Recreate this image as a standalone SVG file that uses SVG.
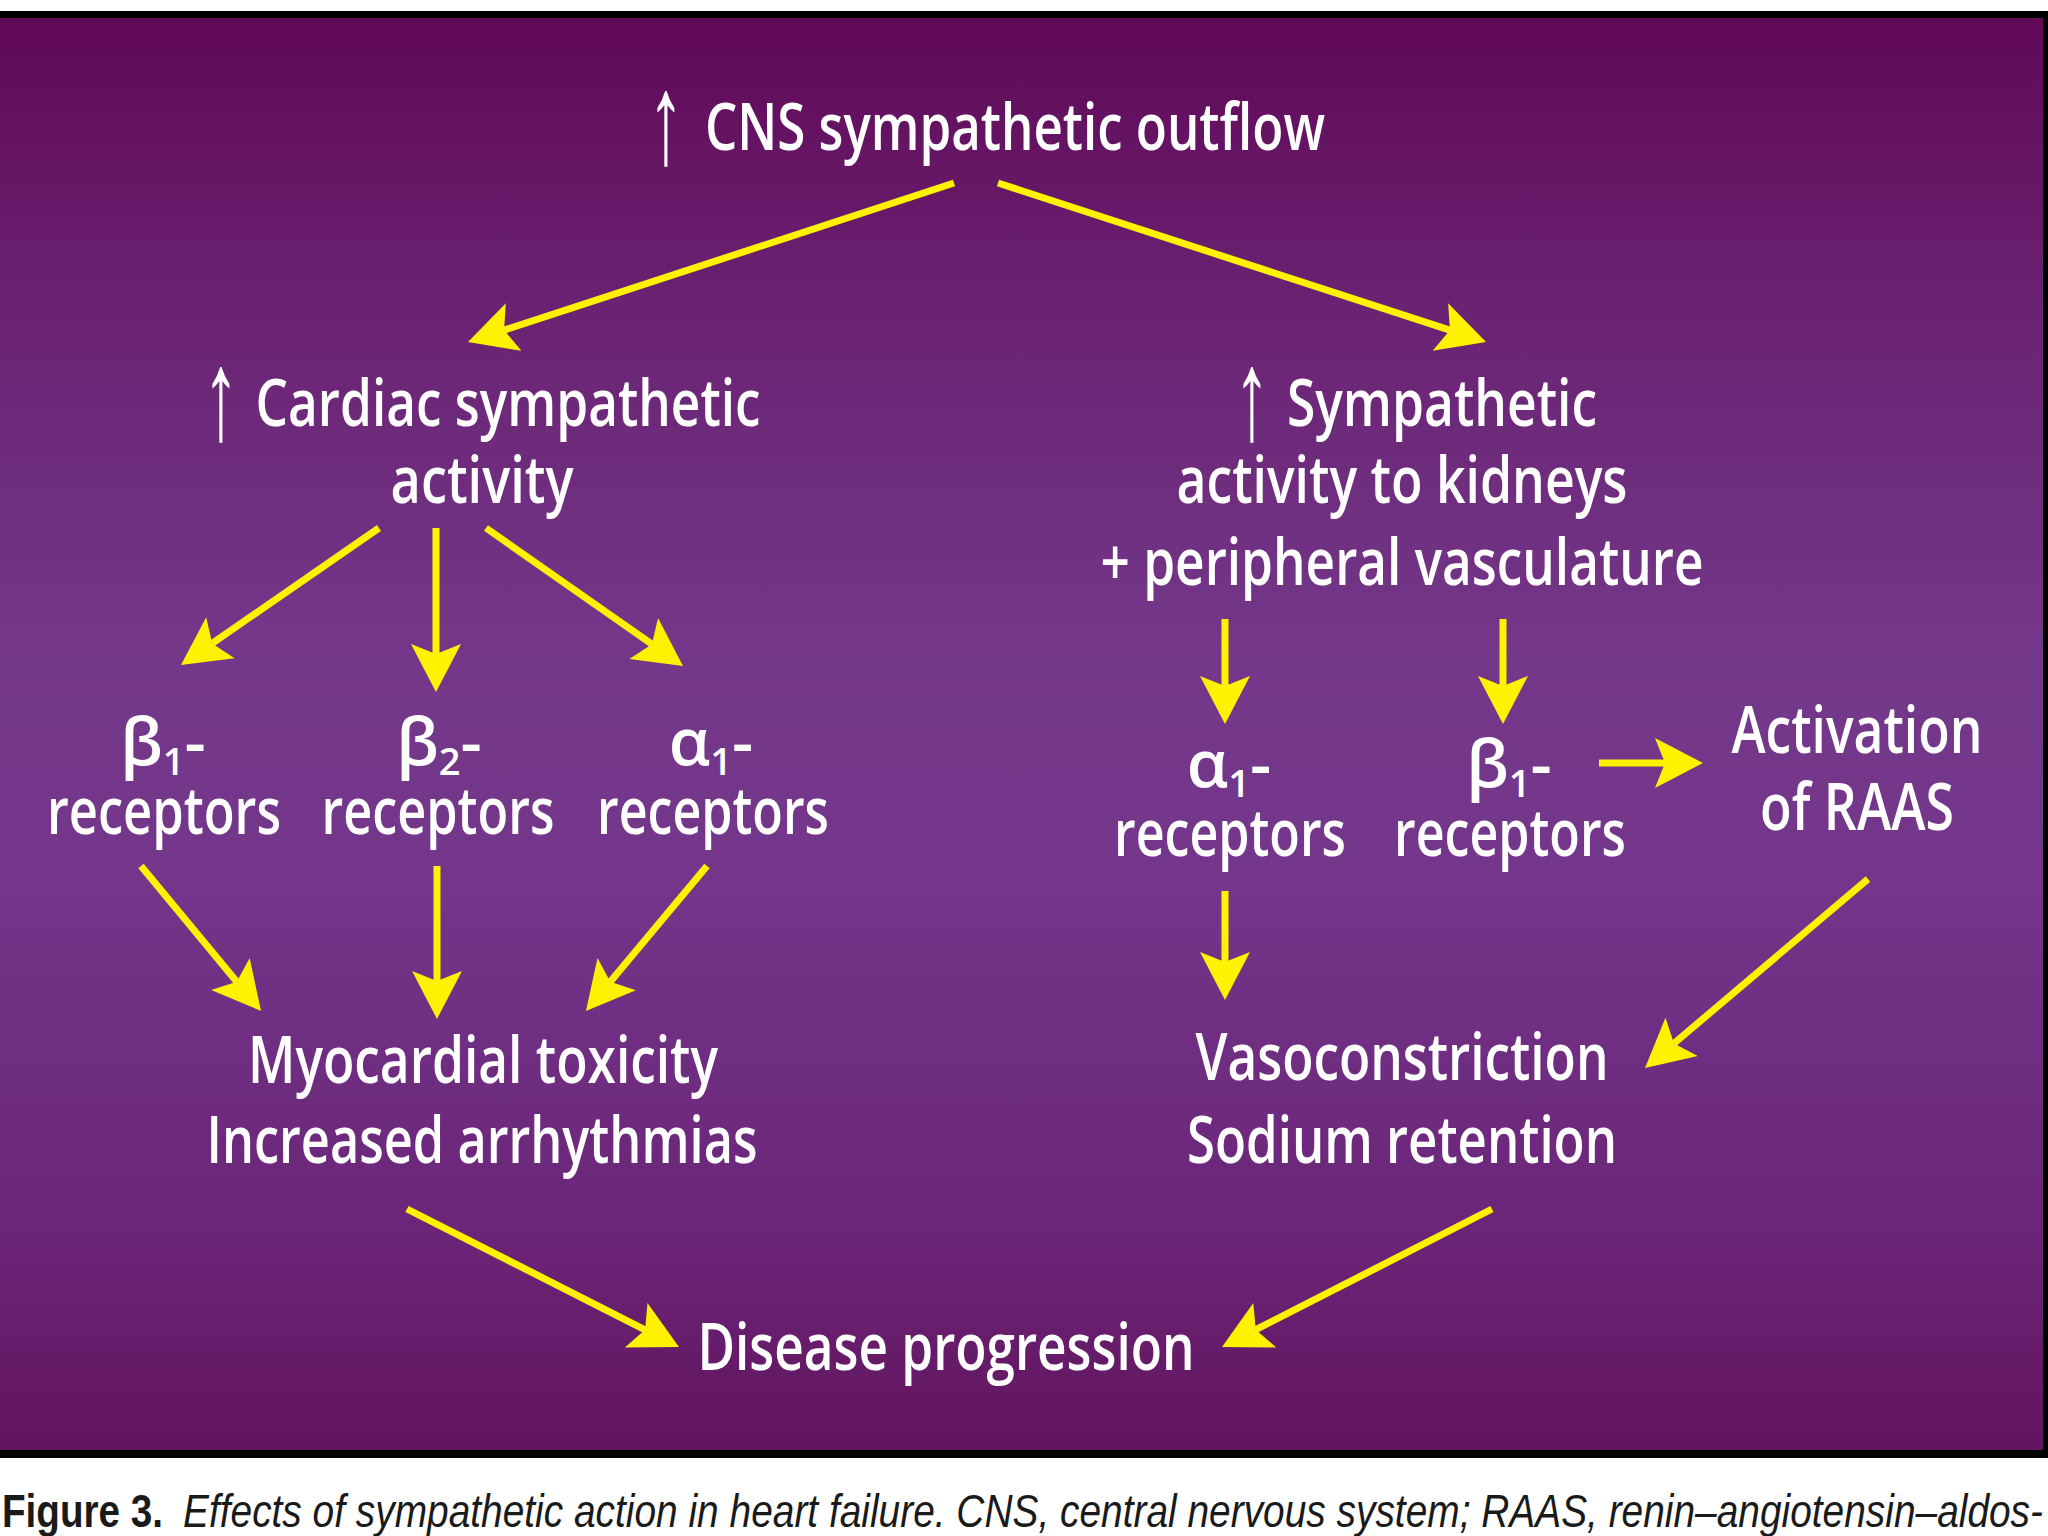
<svg xmlns="http://www.w3.org/2000/svg" width="2048" height="1536" viewBox="0 0 2048 1536">
<defs>
<linearGradient id="bg" x1="0" y1="0" x2="0" y2="1">
<stop offset="0" stop-color="#600957"/>
<stop offset="0.2" stop-color="#6a2272"/>
<stop offset="0.45" stop-color="#74388a"/>
<stop offset="0.6" stop-color="#73368a"/>
<stop offset="0.85" stop-color="#6b2578"/>
<stop offset="1" stop-color="#62145e"/>
</linearGradient>
<marker id="ah" markerUnits="userSpaceOnUse" viewBox="0 -26 48 52" markerWidth="48" markerHeight="52" refX="10" refY="0" orient="auto">
<path d="M0,-25 L48,0 L0,25 L10,0 Z" fill="#fff200"/>
</marker>
<style>
.t{fill:#ffffff;font-family:"Open Sans","Liberation Sans",sans-serif;font-weight:600;font-size:66px;text-anchor:middle}
.up{fill:#ffffff;font-family:"Liberation Sans",sans-serif;font-size:80px;text-anchor:middle}
.sub{font-size:38px}
.cap{fill:#1a1a1a;font-family:"Liberation Sans",sans-serif;font-size:46px}
.c line{stroke:#fff200;stroke-width:7;marker-end:url(#ah)}
</style>
</defs>
<rect x="0" y="0" width="2048" height="1536" fill="#ffffff"/>
<rect x="0" y="11" width="2048" height="1447" fill="#000000"/>
<rect x="0" y="18" width="2043" height="1432" fill="url(#bg)"/>

<g id="n-cns">
<text class="up" transform="translate(666,163) scale(0.9,1.6)">↑</text>
<text class="t" x="1015" y="150" textLength="620" lengthAdjust="spacingAndGlyphs">CNS sympathetic outflow</text>
</g>
<g id="n-cardiac">
<text class="up" transform="translate(221,439) scale(0.9,1.6)">↑</text>
<text class="t" x="508" y="426" textLength="505" lengthAdjust="spacingAndGlyphs">Cardiac sympathetic</text>
<text class="t" x="482" y="503" textLength="183" lengthAdjust="spacingAndGlyphs">activity</text>
</g>
<g id="n-kidneys">
<text class="up" transform="translate(1252,439) scale(0.9,1.6)">↑</text>
<text class="t" x="1442" y="426" textLength="310" lengthAdjust="spacingAndGlyphs">Sympathetic</text>
<text class="t" x="1402" y="503" textLength="451" lengthAdjust="spacingAndGlyphs">activity to kidneys</text>
<text class="t" x="1402" y="585" textLength="603" lengthAdjust="spacingAndGlyphs">+ peripheral vasculature</text>
</g>
<g id="n-b1-left">
<text class="t" x="163" y="765">β<tspan class="sub" dy="10">1</tspan><tspan dy="-10">-</tspan></text>
<text class="t" x="164" y="834" textLength="234" lengthAdjust="spacingAndGlyphs">receptors</text>
</g>
<g id="n-b2-left">
<text class="t" x="439" y="765">β<tspan class="sub" dy="10">2</tspan><tspan dy="-10">-</tspan></text>
<text class="t" x="438" y="834" textLength="233" lengthAdjust="spacingAndGlyphs">receptors</text>
</g>
<g id="n-a1-left">
<text class="t" x="711" y="765">α<tspan class="sub" dy="10">1</tspan><tspan dy="-10">-</tspan></text>
<text class="t" x="713" y="834" textLength="232" lengthAdjust="spacingAndGlyphs">receptors</text>
</g>
<g id="n-a1-right">
<text class="t" x="1229" y="787">α<tspan class="sub" dy="10">1</tspan><tspan dy="-10">-</tspan></text>
<text class="t" x="1230" y="856" textLength="232" lengthAdjust="spacingAndGlyphs">receptors</text>
</g>
<g id="n-b1-right">
<text class="t" x="1509" y="787">β<tspan class="sub" dy="10">1</tspan><tspan dy="-10">-</tspan></text>
<text class="t" x="1510" y="856" textLength="232" lengthAdjust="spacingAndGlyphs">receptors</text>
</g>
<g id="n-raas">
<text class="t" x="1857" y="753" textLength="251" lengthAdjust="spacingAndGlyphs">Activation</text>
<text class="t" x="1857" y="830" textLength="194" lengthAdjust="spacingAndGlyphs">of RAAS</text>
</g>
<g id="n-myocardial">
<text class="t" x="483" y="1083" textLength="470" lengthAdjust="spacingAndGlyphs">Myocardial toxicity</text>
<text class="t" x="482" y="1163" textLength="551" lengthAdjust="spacingAndGlyphs">Increased arrhythmias</text>
</g>
<g id="n-vaso">
<text class="t" x="1402" y="1080" textLength="413" lengthAdjust="spacingAndGlyphs">Vasoconstriction</text>
<text class="t" x="1402" y="1163" textLength="430" lengthAdjust="spacingAndGlyphs">Sodium retention</text>
</g>
<g id="n-disease">
<text class="t" x="946" y="1370" textLength="497" lengthAdjust="spacingAndGlyphs">Disease progression</text>
</g>

<g id="connectors" class="c">
<line x1="954" y1="183" x2="504.1" y2="330.2"/>
<line x1="998" y1="183" x2="1449.9" y2="330.2"/>
<line x1="379" y1="528" x2="212.2" y2="643.4"/>
<line x1="436" y1="528" x2="436" y2="654"/>
<line x1="486" y1="528" x2="651.9" y2="644.2"/>
<line x1="141" y1="866" x2="236.8" y2="981.7"/>
<line x1="437" y1="866" x2="437" y2="981"/>
<line x1="707" y1="866" x2="610.3" y2="981.8"/>
<line x1="1225" y1="619" x2="1225" y2="686"/>
<line x1="1503" y1="619" x2="1503" y2="686"/>
<line x1="1599" y1="763" x2="1665" y2="763"/>
<line x1="1225" y1="891" x2="1225" y2="962"/>
<line x1="1868" y1="879" x2="1674" y2="1043.4"/>
<line x1="407" y1="1209" x2="645.1" y2="1329.8"/>
<line x1="1492" y1="1209" x2="1255.8" y2="1329.7"/>
</g>

<g id="caption">
<text class="cap" x="2" y="1527" font-weight="bold" textLength="161" lengthAdjust="spacingAndGlyphs">Figure 3.</text>
<text class="cap" x="183" y="1527" font-style="italic" textLength="1860" lengthAdjust="spacingAndGlyphs">Effects of sympathetic action in heart failure. CNS, central nervous system; RAAS, renin–angiotensin–aldos-</text>
</g>
</svg>
